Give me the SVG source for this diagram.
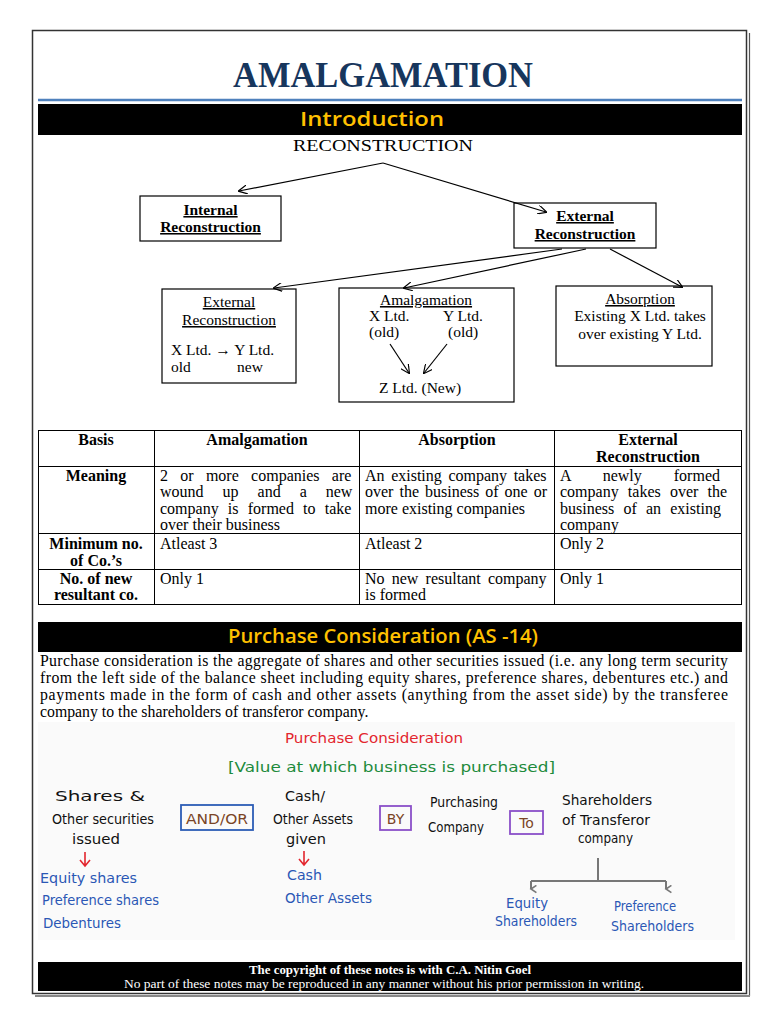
<svg xmlns="http://www.w3.org/2000/svg" width="768" height="1024" viewBox="0 0 768 1024">
<style>
.serif{font-family:"Liberation Serif","Times New Roman",serif;fill:#000}
.t14{font-size:15.5px}
.t15{font-size:16px}
.tp{font-size:15.8px}
.b{font-weight:bold}
.u{text-decoration:underline}
.mid{text-anchor:middle}
.box{fill:#fff;stroke:#000;stroke-width:1.2}
.conn{stroke:#000;stroke-width:1.2;fill:none;marker-end:url(#open)}
.bar{fill:#000}
.bartxt{font-family:"Open Sans","Liberation Sans",sans-serif;font-weight:600;font-size:19px;fill:#FFC000;text-anchor:middle}
.grid{stroke:#000;stroke-width:1;fill:none}
.hand{font-family:"DejaVu Sans","Liberation Sans",sans-serif;font-size:14px}
.hk{fill:#111}
.hb{fill:#2A57B5}
.hr{fill:#E3262E}
.hg{fill:#1E8B3C}
.hbr{fill:#7A4526}
.foot{font-family:"Liberation Serif","Times New Roman",serif;font-size:11.5px;fill:#fff;text-anchor:middle}
</style>
<defs>
<marker id="open" viewBox="0 0 10 10" refX="9" refY="5" markerWidth="9" markerHeight="9" orient="auto" markerUnits="userSpaceOnUse">
<path d="M0,0 L10,5 L0,10" fill="none" stroke="#000" stroke-width="1.3"/>
</marker>
<marker id="gray" viewBox="0 0 10 10" refX="5" refY="8" markerWidth="9" markerHeight="9" orient="auto" markerUnits="userSpaceOnUse">
<path d="M1,2 L5,8 L9,2" fill="none" stroke="#777" stroke-width="1.8"/>
</marker>
</defs>
<rect width="768" height="1024" fill="#fff"/>
<g id="page-border">
<rect x="32.5" y="30.5" width="714" height="963" fill="none" stroke="#333" stroke-width="1.5"/>
<line x1="749.5" y1="33" x2="749.5" y2="996" stroke="#555" stroke-width="1.2"/>
<line x1="35" y1="996" x2="750" y2="996" stroke="#888" stroke-width="2"/>
</g>
<g id="title">
<text x="383" y="87" text-anchor="middle" font-family="Liberation Serif,Times New Roman,serif" font-weight="bold" font-size="36" fill="#17365D" textLength="300" lengthAdjust="spacingAndGlyphs">AMALGAMATION</text>
<line x1="38" y1="100" x2="742" y2="100" stroke="#4F81BD" stroke-width="2.5"/>
</g>
<g id="intro-bar">
<rect class="bar" x="38" y="104" width="704" height="31"/>
<text class="bartxt" x="372" y="126" textLength="144" lengthAdjust="spacingAndGlyphs">Introduction</text>
</g>
<g id="reconstruction">
<text class="serif mid" x="383" y="151" font-size="17" textLength="180" lengthAdjust="spacingAndGlyphs">RECONSTRUCTION</text>
</g>
<g id="internal-reconstruction">
<rect class="box" x="140" y="196" width="141" height="45"/>
<text class="serif t14 b u mid" x="210.5" y="215">Internal</text>
<text class="serif t14 b u mid" x="210.5" y="232">Reconstruction</text>
</g>
<g id="external-reconstruction-top">
<rect class="box" x="514" y="203" width="142" height="45"/>
<text class="serif t14 b u mid" x="585" y="221">External</text>
<text class="serif t14 b u mid" x="585" y="239">Reconstruction</text>
</g>
<g id="external-reconstruction">
<rect class="box" x="162" y="289" width="134" height="94"/>
<text class="serif t14 u mid" x="229" y="307">External</text>
<text class="serif t14 u mid" x="229" y="325">Reconstruction</text>
<text class="serif t14" x="171" y="355">X Ltd. → Y Ltd.</text>
<text class="serif t14" x="171" y="372">old</text>
<text class="serif t14" x="237" y="372">new</text>
</g>
<g id="amalgamation">
<rect class="box" x="339" y="288" width="175" height="114"/>
<text class="serif t14 u mid" x="426" y="305">Amalgamation</text>
<text class="serif t14" x="369" y="321">X Ltd.</text>
<text class="serif t14" x="443" y="321">Y Ltd.</text>
<text class="serif t14" x="369" y="337">(old)</text>
<text class="serif t14" x="448" y="337">(old)</text>
<text class="serif t14 mid" x="420" y="393">Z Ltd. (New)</text>
</g>
<g id="absorption">
<rect class="box" x="556" y="286" width="156" height="80"/>
<text class="serif t14 u mid" x="640" y="304">Absorption</text>
<text class="serif t14 mid" x="640" y="321">Existing X Ltd. takes</text>
<text class="serif t14 mid" x="640" y="339">over existing Y Ltd.</text>
</g>
<g id="connectors">
<line class="conn" x1="383" y1="163" x2="239" y2="191"/>
<line class="conn" x1="383" y1="163" x2="546" y2="212"/>
<line class="conn" x1="562" y1="249" x2="274" y2="288"/>
<line class="conn" x1="586" y1="249" x2="404" y2="288"/>
<line class="conn" x1="610" y1="249" x2="682" y2="287"/>
<line class="conn" x1="390" y1="344" x2="409" y2="373"/>
<line class="conn" x1="447" y1="344" x2="424" y2="373"/>
</g>
<g id="comparison-table">
<rect class="grid" x="38.5" y="430.5" width="703" height="174"/>
<line class="grid" x1="38" y1="466.5" x2="742" y2="466.5"/>
<line class="grid" x1="38" y1="533.5" x2="742" y2="533.5"/>
<line class="grid" x1="38" y1="569.5" x2="742" y2="569.5"/>
<line class="grid" x1="154.5" y1="430" x2="154.5" y2="605"/>
<line class="grid" x1="359.5" y1="430" x2="359.5" y2="605"/>
<line class="grid" x1="554.5" y1="430" x2="554.5" y2="605"/>
<text class="serif t15 b mid" x="96" y="445">Basis</text>
<text class="serif t15 b mid" x="257" y="445">Amalgamation</text>
<text class="serif t15 b mid" x="457" y="445">Absorption</text>
<text class="serif t15 b mid" x="648" y="445">External</text>
<text class="serif t15 b mid" x="648" y="462">Reconstruction</text>
<text class="serif t15 b mid" x="96" y="481">Meaning</text>
<text class="serif t15" x="160" y="481" word-spacing="8.3">2 or more companies are</text>
<text class="serif t15" x="160" y="497" word-spacing="15">wound up and a new</text>
<text class="serif t15" x="160" y="514" word-spacing="5.2">company is formed to take</text>
<text class="serif t15" x="160" y="530">over their business</text>
<text class="serif t15" x="365" y="481" word-spacing="2.6">An existing company takes</text>
<text class="serif t15" x="365" y="497" word-spacing="2">over the business of one or</text>
<text class="serif t15" x="365" y="514">more existing companies</text>
<text class="serif t15" x="560" y="481" word-spacing="28">A newly formed</text>
<text class="serif t15" x="560" y="497" word-spacing="5.2">company takes over the</text>
<text class="serif t15" x="560" y="514" word-spacing="5.2">business of an existing</text>
<text class="serif t15" x="560" y="530">company</text>
<text class="serif t15 b mid" x="96" y="549">Minimum no.</text>
<text class="serif t15 b mid" x="96" y="566">of Co.’s</text>
<text class="serif t15" x="160" y="549">Atleast 3</text>
<text class="serif t15" x="365" y="549">Atleast 2</text>
<text class="serif t15" x="560" y="549">Only 2</text>
<text class="serif t15 b mid" x="96" y="584">No. of new</text>
<text class="serif t15 b mid" x="96" y="600">resultant co.</text>
<text class="serif t15" x="160" y="584">Only 1</text>
<text class="serif t15" x="365" y="584" word-spacing="3.2">No new resultant company</text>
<text class="serif t15" x="365" y="600">is formed</text>
<text class="serif t15" x="560" y="584">Only 1</text>
</g>
<g id="purchase-bar">
<rect class="bar" x="38" y="622" width="704" height="30"/>
<text class="bartxt" x="383" y="643" textLength="310" lengthAdjust="spacingAndGlyphs">Purchase Consideration (AS -14)</text>
</g>
<g id="definition">
<text class="serif tp" x="40" y="666" textLength="688" lengthAdjust="spacing">Purchase consideration is the aggregate of shares and other securities issued (i.e. any long term security</text>
<text class="serif tp" x="40" y="683" textLength="688" lengthAdjust="spacing">from the left side of the balance sheet including equity shares, preference shares, debentures etc.) and</text>
<text class="serif tp" x="40" y="700" textLength="688" lengthAdjust="spacing">payments made in the form of cash and other assets (anything from the asset side) by the transferee</text>
<text class="serif tp" x="40" y="717">company to the shareholders of transferor company.</text>
</g>
<rect x="38" y="722" width="697" height="218" fill="#FAFAFA"/>
<g id="pc-heading">
<text class="hand hr" x="285" y="743" font-size="16" textLength="178" lengthAdjust="spacingAndGlyphs">Purchase Consideration</text>
<text class="hand hg" x="228" y="772" font-size="16" textLength="327" lengthAdjust="spacingAndGlyphs">[Value at which business is purchased]</text>
</g>
<g id="shares">
<text class="hand hk" x="55" y="801" textLength="90" lengthAdjust="spacingAndGlyphs">Shares &amp;</text>
<text class="hand hk" x="52" y="824" textLength="102" lengthAdjust="spacingAndGlyphs">Other securities</text>
<text class="hand hk" x="72" y="844" textLength="48" lengthAdjust="spacingAndGlyphs">issued</text>
<path d="M85,852 V866 M80,860 L85,866 L90,860" fill="none" stroke="#E3262E" stroke-width="1.6"/>
<text class="hand hb" x="40" y="883" textLength="97" lengthAdjust="spacingAndGlyphs">Equity shares</text>
<text class="hand hb" x="42" y="905" textLength="117" lengthAdjust="spacingAndGlyphs">Preference shares</text>
<text class="hand hb" x="43" y="928" textLength="78" lengthAdjust="spacingAndGlyphs">Debentures</text>
</g>
<g id="and-or">
<rect x="181" y="805" width="72" height="25" fill="none" stroke="#2C5CB5" stroke-width="1.8"/>
<text class="hand hbr" x="217" y="824" text-anchor="middle" font-size="15" textLength="62" lengthAdjust="spacingAndGlyphs">AND/OR</text>
</g>
<g id="cash">
<text class="hand hk" x="285" y="801" textLength="40" lengthAdjust="spacingAndGlyphs">Cash/</text>
<text class="hand hk" x="273" y="824" textLength="80" lengthAdjust="spacingAndGlyphs">Other Assets</text>
<text class="hand hk" x="286" y="844" textLength="40" lengthAdjust="spacingAndGlyphs">given</text>
<path d="M304,851 V865 M299,859 L304,865 L309,859" fill="none" stroke="#E3262E" stroke-width="1.6"/>
<text class="hand hb" x="287" y="880" textLength="35" lengthAdjust="spacingAndGlyphs">Cash</text>
<text class="hand hb" x="285" y="903" textLength="87" lengthAdjust="spacingAndGlyphs">Other Assets</text>
</g>
<g id="by">
<rect x="380" y="806" width="31" height="24" fill="none" stroke="#8A4FC8" stroke-width="1.8"/>
<text class="hand hbr" x="395.5" y="824" text-anchor="middle" font-size="15">BY</text>
</g>
<g id="purchasing-company">
<text class="hand hk" x="430" y="807" textLength="68" lengthAdjust="spacingAndGlyphs">Purchasing</text>
<text class="hand hk" x="428" y="832" textLength="56" lengthAdjust="spacingAndGlyphs">Company</text>
</g>
<g id="to">
<rect x="510" y="811" width="33" height="23" fill="none" stroke="#8A4FC8" stroke-width="1.8"/>
<text class="hand hbr" x="526.5" y="828" text-anchor="middle" font-size="15">To</text>
</g>
<g id="shareholders">
<text class="hand hk" x="562" y="805" textLength="90" lengthAdjust="spacingAndGlyphs">Shareholders</text>
<text class="hand hk" x="562" y="825" textLength="88" lengthAdjust="spacingAndGlyphs">of Transferor</text>
<text class="hand hk" x="578" y="843" textLength="55" lengthAdjust="spacingAndGlyphs">company</text>
</g>
<g id="shareholder-split">
<path d="M598,858 V881 M531,881 H666" fill="none" stroke="#777" stroke-width="2"/>
<line x1="531" y1="881" x2="531" y2="889" stroke="#777" stroke-width="2" marker-end="url(#gray)"/>
<line x1="666" y1="881" x2="666" y2="889" stroke="#777" stroke-width="2" marker-end="url(#gray)"/>
</g>
<g id="equity-shareholders">
<text class="hand hb" x="506" y="908" textLength="42" lengthAdjust="spacingAndGlyphs">Equity</text>
<text class="hand hb" x="495" y="926" textLength="82" lengthAdjust="spacingAndGlyphs">Shareholders</text>
</g>
<g id="preference-shareholders">
<text class="hand hb" x="614" y="911" textLength="62" lengthAdjust="spacingAndGlyphs">Preference</text>
<text class="hand hb" x="611" y="931" textLength="83" lengthAdjust="spacingAndGlyphs">Shareholders</text>
</g>
<g id="footer">
<rect class="bar" x="38" y="962" width="704" height="29"/>
<text class="foot" x="390" y="974" font-weight="bold" textLength="282" lengthAdjust="spacingAndGlyphs">The copyright of these notes is with C.A. Nitin Goel</text>
<text class="foot" x="384" y="988" textLength="520" lengthAdjust="spacingAndGlyphs">No part of these notes may be reproduced in any manner without his prior permission in writing.</text>
</g>
</svg>
